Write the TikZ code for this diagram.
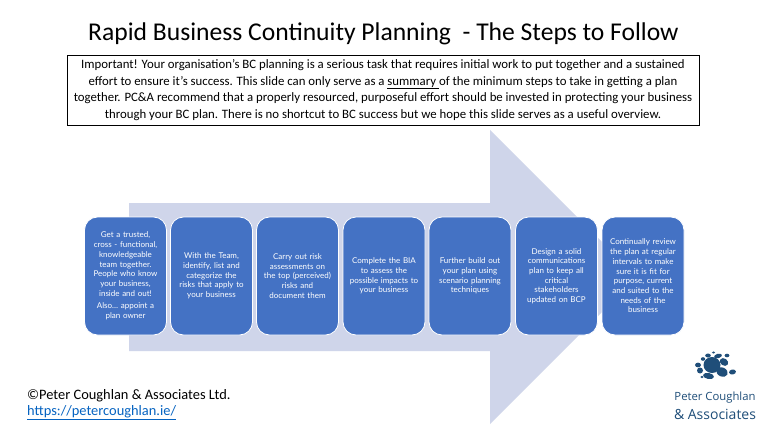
\documentclass[tikz,border=0pt]{standalone}
\usepackage{fontspec}
\setmainfont{Carlito}
\newfontfamily\stepfont{Lato}
\newfontfamily\logofont{Open Sans}
\definecolor{arrowfill}{HTML}{CFD5EA}
\definecolor{stepblue}{HTML}{4472C4}
\definecolor{logoblue}{HTML}{1F4E79}
\definecolor{linkblue}{HTML}{0563C1}
\tikzset{
  stepbox/.style={draw=white,line width=0.8pt,fill=stepblue,rounded corners=13pt,minimum width=82pt,minimum height=118pt,inner sep=0pt,text=white,align=center,text width=80pt,font=\stepfont\fontsize{8}{9.7}\selectfont},
  blob/.style={fill=logoblue,draw=none},
}
\begin{document}
\begin{tikzpicture}[x=1pt,y=-1pt]
\useasboundingbox (0,0) rectangle (768,433);
\fill[white] (0,0) rectangle (768,433);
\fill[arrowfill] (129,203) -- (490,203) -- (490,130) -- (637,277) -- (490,424) -- (490,351) -- (129,351) -- cycle;
\node[anchor=center,font=\fontsize{25.6}{28}\selectfont] (title) at (383.5,34) {Rapid Business Continuity Planning\ \ - The Steps to Follow};
\node[draw=black,line width=0.8pt,minimum width=632pt,minimum height=70pt,inner sep=0pt,align=center,font=\fontsize{12.8}{16.6}\selectfont] (intro) at (383,90) {Important! Your organisation’s BC planning is a serious task that requires initial work to put together and a sustained\\
effort to ensure it’s success. This slide can only serve as a \underline{summary }of the minimum steps to take in getting a plan\\
together. PC\&A recommend that a properly resourced, purposeful effort should be invested in protecting your business\\
through your BC plan. There is no shortcut to BC success but we hope this slide serves as a useful overview.};
\node[stepbox] (s1) at (125.5,276) {Get a trusted,\\cross - functional,\\knowledgeable\\team together.\\People who know\\your business,\\inside and out!\\[3pt]Also… appoint a\\plan owner};
\node[stepbox] (s2) at (211.5,276) {With the Team,\\identify, list and\\categorize the\\risks that apply to\\your business};
\node[stepbox] (s3) at (297.5,276) {Carry out risk\\assessments on\\the top (perceived)\\risks and\\document them};
\node[stepbox] (s4) at (384,276) {Complete the BIA\\to assess the\\possible impacts to\\your business};
\node[stepbox] (s5) at (470,276) {Further build out\\your plan using\\scenario planning\\techniques};
\node[stepbox] (s6) at (556.5,276) {Design a solid\\communications\\plan to keep all\\critical\\stakeholders\\updated on BCP};
\node[stepbox] (s7) at (643,276) {Continually review\\the plan at regular\\intervals to make\\sure it is fit for\\purpose, current\\and suited to the\\needs of the\\business};
\node[anchor=west,font=\fontsize{14.4}{17}\selectfont] (copy) at (23.7,395.5) {©Peter Coughlan \& Associates Ltd.};
\node[anchor=west,font=\fontsize{14.4}{17}\selectfont,text=linkblue] (link) at (23.7,412.5) {\underline{https://petercoughlan.ie/}};
% logo
\fill[blob] (712,365) ellipse (8.5pt and 8pt);
\fill[blob,rotate around={-25:(722,372)}] (722,372) ellipse (6pt and 4.5pt);
\fill[blob,rotate around={-35:(724,362)}] (724,362) ellipse (4.5pt and 3.5pt);
\fill[blob,rotate around={15:(718,356)}] (718,356) ellipse (4pt and 2.2pt);
\fill[blob] (708,355.5) ellipse (2.8pt and 2pt);
\fill[blob] (727,355.5) ellipse (2.4pt and 1.8pt);
\fill[blob] (698,365) ellipse (3pt and 2.4pt);
\fill[blob] (700,370.5) ellipse (3pt and 3pt);
\fill[blob,rotate around={-10:(708.5,376)}] (708.5,376) ellipse (5.5pt and 3pt);
\fill[blob,rotate around={10:(732.5,372)}] (732.5,372) ellipse (3.5pt and 2.5pt);
\fill[blob] (703,359) ellipse (2.2pt and 1.8pt);
\fill[blob] (713.5,352.5) ellipse (1.6pt and 1.1pt);
\fill[blob] (702,377) ellipse (1.6pt and 1.2pt);
\node[anchor=center,text=logoblue,font=\logofont\fontsize{11.3}{12}\selectfont] (logo1) at (715,398) {Peter Coughlan};
\node[anchor=center,text=logoblue,font=\logofont\fontsize{14}{13}\selectfont] (logo2) at (715,414.5) {\& Associates};
\end{tikzpicture}
\end{document}
